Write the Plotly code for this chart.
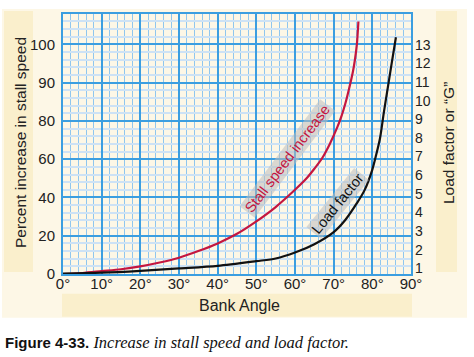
import numpy as np
import plotly.graph_objects as go

# ---- data ----
stall_angle = [0, 5, 10, 15, 20, 25, 30, 35, 40, 45, 50, 55, 60, 63, 65, 67, 69, 71, 72, 73, 74, 75, 75.5, 76, 76.4]
stall_pct = [0, 0.5, 1.5, 2.5, 4, 6, 8.5, 12, 16, 21, 27.5, 35, 44, 50, 55, 60.5, 68, 77, 81.2, 84.5, 88.5, 93, 96, 100, 106]

load_angle = [0, 10, 20, 30, 40, 50, 55, 60, 65, 70, 73, 76, 78, 80, 81, 82, 83, 84, 85, 86.1]
load_g = [0.72, 0.77, 0.87, 1.0, 1.14, 1.39, 1.53, 1.85, 2.3, 2.95, 3.6, 4.5, 5.2, 6.3, 7.1, 8.0, 9.4, 10.7, 12.0, 13.4]

x_ticks = [0, 10, 20, 30, 40, 50, 60, 70, 80, 90]
left_tick_pct = [0, 20, 40, 60, 80, 90, 100]          # unevenly spaced labels
left_tick_pos = [0, 1, 2, 3, 4, 5, 6]                 # equally spaced on the grid
right_ticks = list(range(1, 14))

# left axis is piecewise-linear: map percent onto its grid position
stall_pos = np.interp(stall_pct, left_tick_pct + [110], left_tick_pos + [7])

BLUE = "#3b9ee0"
MINOR = "#8fc6ee"
FONT = "Liberation Sans, Arial, sans-serif"

fig = go.Figure()
fig.add_trace(go.Scatter(x=stall_angle, y=stall_pos, mode="lines",
                         line=dict(color="#c4163f", width=2.2, shape="spline", smoothing=0.8),
                         hoverinfo="skip", showlegend=False))
fig.add_trace(go.Scatter(x=load_angle, y=load_g, mode="lines", yaxis="y2",
                         line=dict(color="#111111", width=2.2, shape="spline", smoothing=0.8),
                         hoverinfo="skip", showlegend=False))

L, R, T, B = 63, 63, 12, 83
W, H = 474, 357
pw, ph = W - L - R, H - T - B


def px(xp):
    return (xp - L) / pw


def py(yp):
    return (H - B - yp) / ph


shapes = [
    # cream panel
    dict(type="rect", xref="paper", yref="paper", x0=px(2), x1=px(467), y0=py(318), y1=py(7),
         fillcolor="#fdf7e6", line_width=0, layer="below"),
    # left title strip
    dict(type="rect", xref="paper", yref="paper", x0=px(4), x1=px(33), y0=py(272), y1=py(9),
         fillcolor="#faefcc", line_width=0, layer="below"),
    # right title strip
    dict(type="rect", xref="paper", yref="paper", x0=px(436), x1=px(457), y0=py(272), y1=py(9),
         fillcolor="#faefcc", line_width=0, layer="below"),
    # bottom strip
    dict(type="rect", xref="paper", yref="paper", x0=px(62), x1=px(412), y0=py(317), y1=py(294),
         fillcolor="#faefcc", line_width=0, layer="below"),
]


def ann(text, x, y, **kw):
    d = dict(text=text, xref="paper", yref="paper", x=px(x), y=py(y),
             xanchor="center", yanchor="middle", showarrow=False)
    d.update(kw)
    return d


annotations = [
    ann("Percent increase in stall speed", 20, 142, textangle=-90,
        font=dict(family=FONT, size=15.5, color="#222")),
    ann("Load factor or \u201cG\u201d", 448, 142, textangle=-90,
        font=dict(family=FONT, size=15.5, color="#222")),
    ann("Bank Angle", 239, 306, font=dict(family=FONT, size=16, color="#222")),
    ann("<b>Figure 4-33.</b> <i><span style='font-family:Liberation Serif, Times New Roman, serif;font-size:16.5px'>Increase in stall speed and load factor.</span></i>",
        3, 343, xanchor="left", font=dict(family=FONT, size=15, color="#111")),
    ann("Stall speed increase", 287, 158, textangle=-53,
        bgcolor="rgba(190,190,190,0.55)", borderpad=1,
        font=dict(family=FONT, size=14.5, color="#c4163f")),
    ann("Load factor", 337, 203, textangle=-51,
        bgcolor="rgba(190,190,190,0.55)", borderpad=1,
        font=dict(family=FONT, size=14.5, color="#111")),
]

fig.update_layout(
    width=W, height=H,
    margin=dict(l=L, r=R, t=T, b=B),
    paper_bgcolor="white",
    plot_bgcolor="#dcebf8",
    shapes=shapes,
    annotations=annotations,
    xaxis=dict(range=[0, 90], tickvals=x_ticks, ticktext=[f"{v}\u00b0" for v in x_ticks],
               showgrid=True, gridcolor=BLUE, gridwidth=2, zeroline=False,
               showline=True, linecolor=BLUE, linewidth=2, mirror=True,
               ticks="", ticklabelstandoff=-5,
               minor=dict(dtick=2, tick0=0, showgrid=True, gridcolor=MINOR, gridwidth=1),
               tickfont=dict(family=FONT, size=15, color="#222")),
    yaxis=dict(range=[0, 6.795], tickvals=left_tick_pos, ticktext=[str(v) for v in left_tick_pct],
               showgrid=True, gridcolor=BLUE, gridwidth=2, zeroline=False,
               showline=True, linecolor=BLUE, linewidth=2, mirror=True,
               ticks="", ticklabelstandoff=3,
               minor=dict(dtick=0.2, tick0=0, showgrid=True, gridcolor="#cde2f5", gridwidth=2),
               tickfont=dict(family=FONT, size=15, color="#222")),
    yaxis2=dict(range=[0.7, 14.65], tickvals=right_ticks, overlaying="y", side="right",
                showgrid=False, zeroline=False, ticks="", ticklabelstandoff=3,
                tickfont=dict(family=FONT, size=14, color="#222")),
)

fig.write_html("out.html")
